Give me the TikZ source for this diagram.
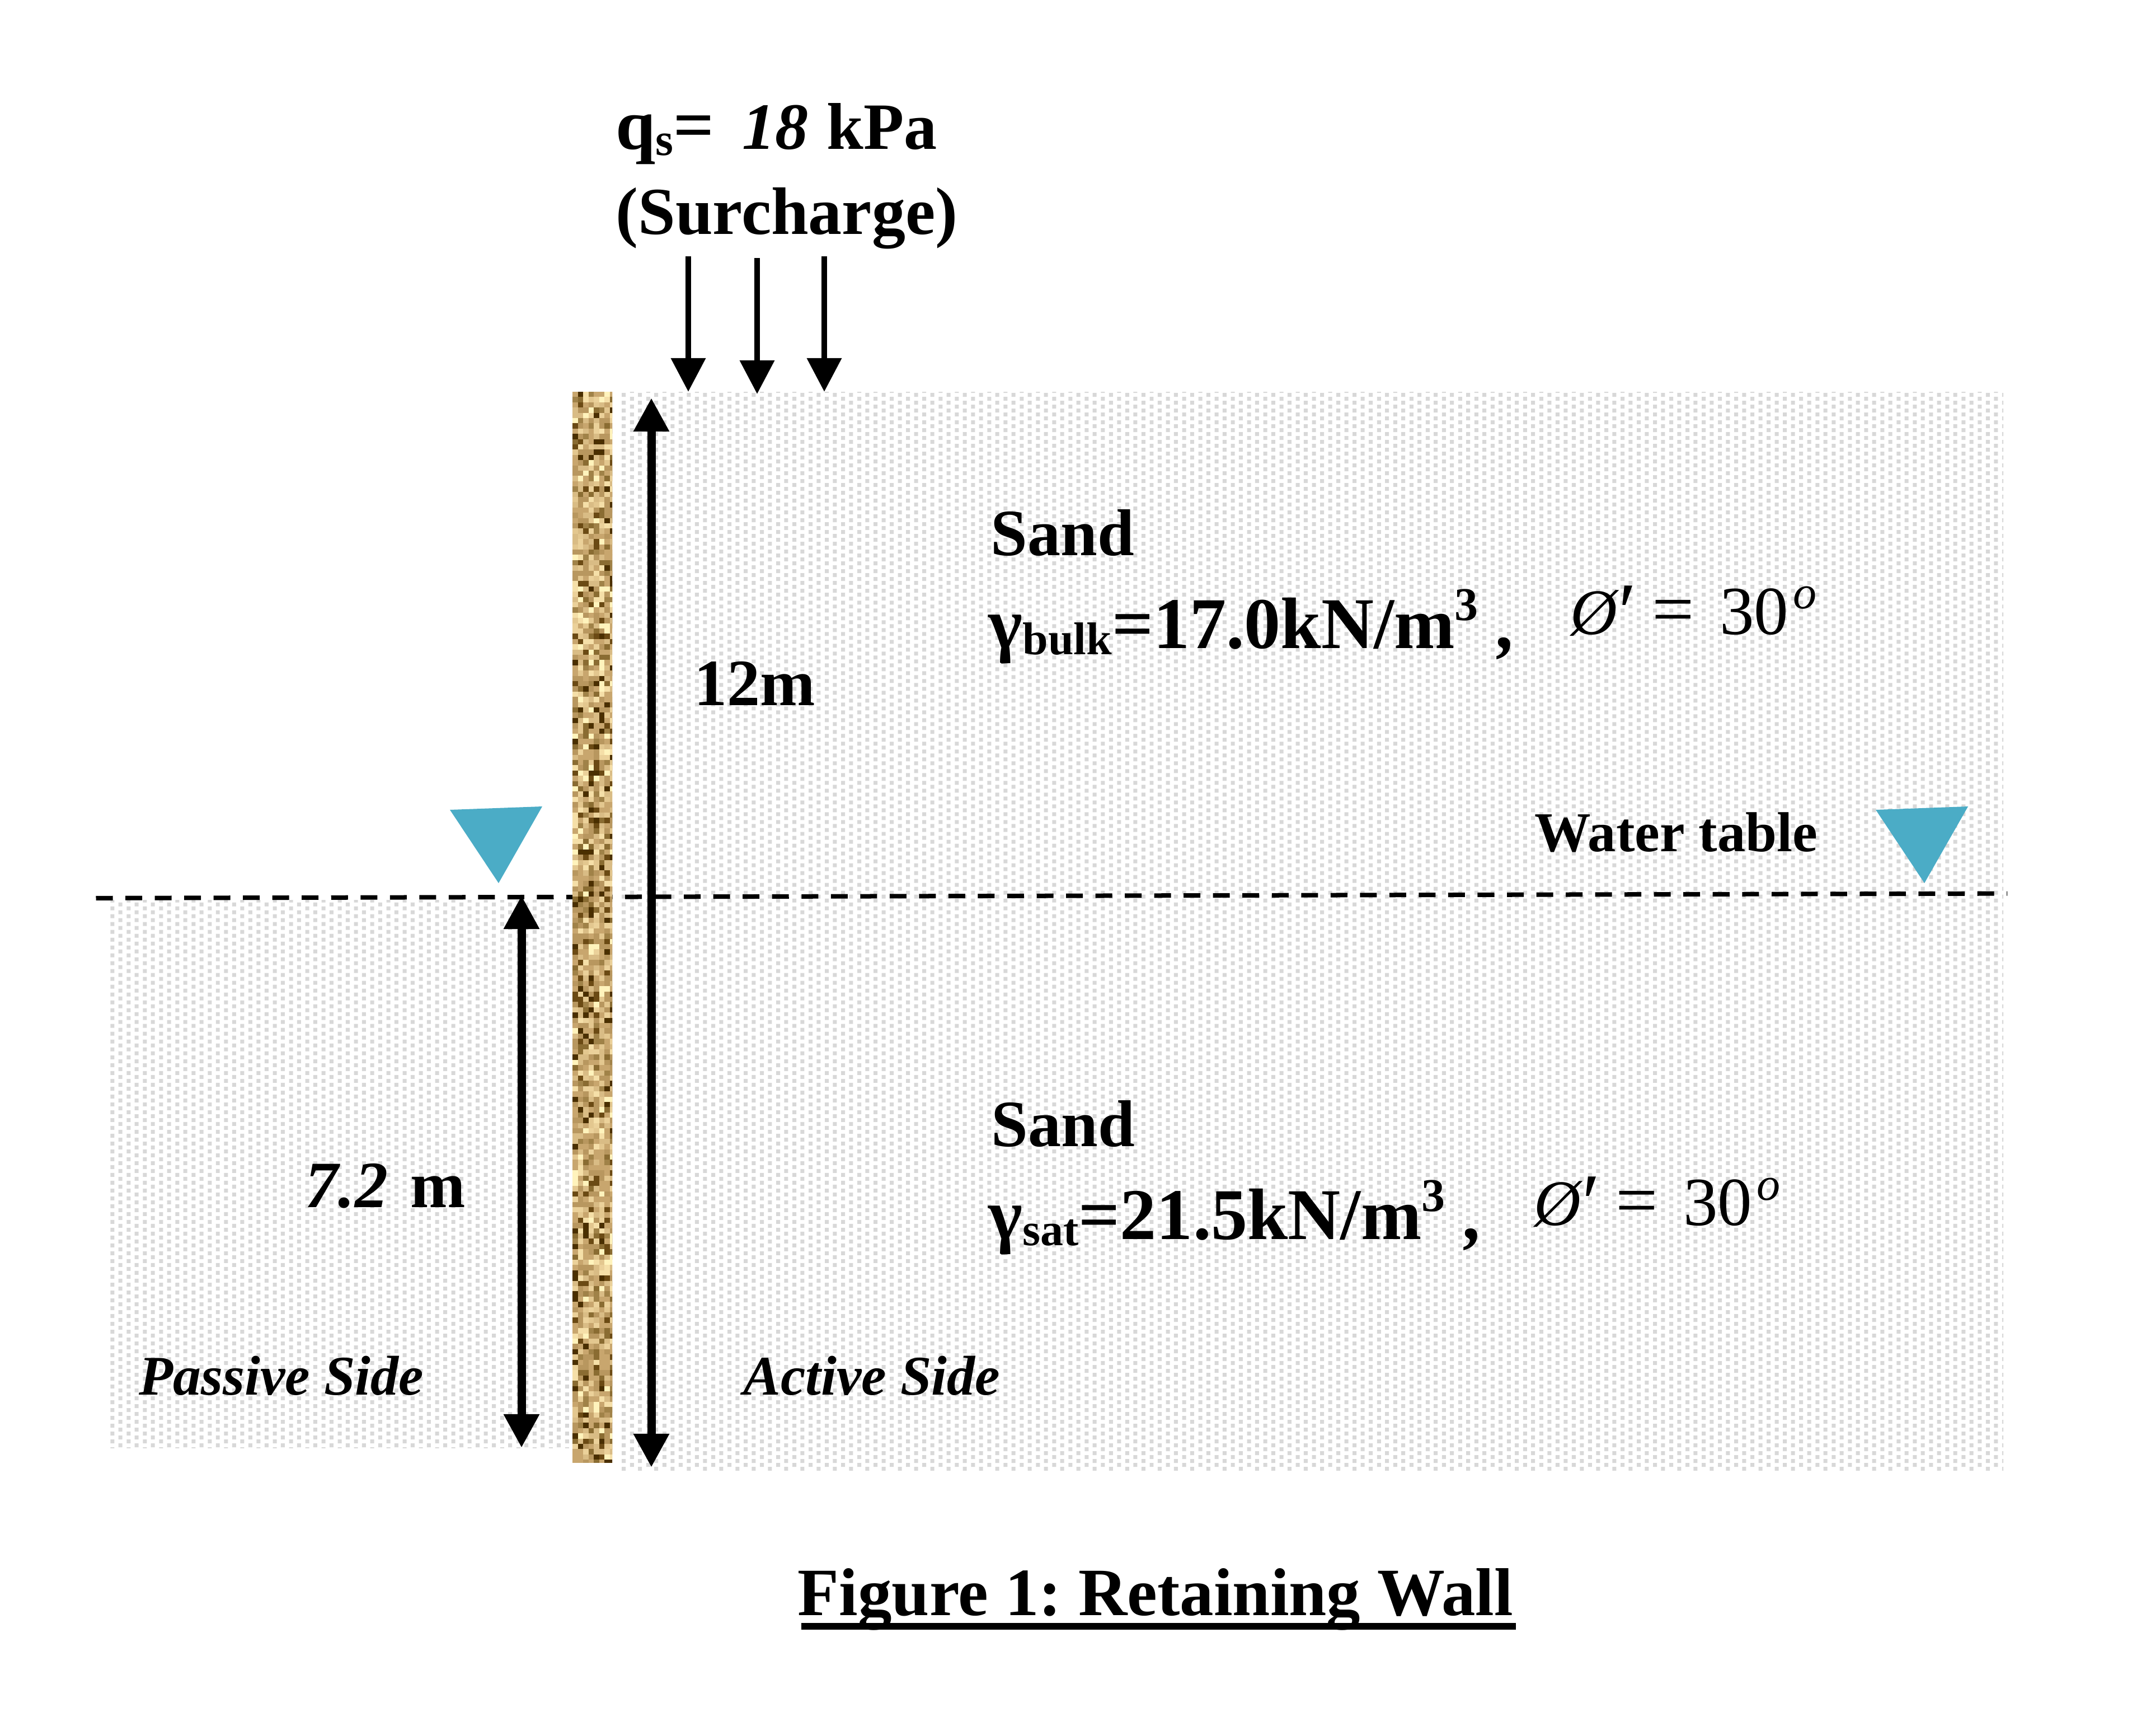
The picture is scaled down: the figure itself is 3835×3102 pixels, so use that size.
\documentclass[tikz,border=0pt]{standalone}
\usepackage{fontspec}
\setmainfont{Liberation Serif}
\usetikzlibrary{arrows.meta}
\usetikzlibrary{patterns}
\tikzset{>={Triangle[length=0.6cm,width=0.6cm]}}
\definecolor{sandgray}{HTML}{D8D8D8}
\definecolor{watercol}{HTML}{4BACC6}
\definecolor{wall0}{HTML}{C8A66E}
\definecolor{wall1}{HTML}{B8975F}
\definecolor{wall2}{HTML}{D9BC85}
\definecolor{wall3}{HTML}{EBD19A}
\definecolor{wall4}{HTML}{A08248}
\definecolor{wall5}{HTML}{8A6C32}
\definecolor{wall6}{HTML}{6B4A14}
\definecolor{wall7}{HTML}{C8A66E}
\definecolor{wall8}{HTML}{B8975F}
\definecolor{wall9}{HTML}{D9BC85}
\definecolor{wall10}{HTML}{E3C78F}
\definecolor{wall11}{HTML}{4A2F00}
\definecolor{wall12}{HTML}{FFF3BC}
\definecolor{wall13}{HTML}{F5DFA8}
\definecolor{wall14}{HTML}{C8A66E}
\definecolor{wall15}{HTML}{B8975F}
% staggered grey squares of the soil
\pgfdeclarepatternformonly{sanddots}{\pgfqpoint{-3pt}{-3pt}}{\pgfqpoint{12pt}{8pt}}{\pgfqpoint{8.2517pt}{3.9835pt}}{
    \pgfpathrectangle{\pgfqpoint{2.42pt}{-0.71pt}}{\pgfqpoint{1.99pt}{1.99pt}}
    \pgfpathrectangle{\pgfqpoint{6.6pt}{1.28pt}}{\pgfqpoint{1.99pt}{1.99pt}}
    \pgfusepath{fill}
}
\tikzstyle{soil} = [pattern=sanddots, pattern color=sandgray]
\tikzstyle{label} = [anchor=base west, inner sep=0pt, font=\bfseries\fontsize{33.6}{40}\selectfont]
\tikzstyle{smalllabel} = [anchor=base west, inner sep=0pt, font=\bfseries\fontsize{28.6}{34}\selectfont]
\tikzstyle{sidelabel} = [smalllabel, font=\bfseries\itshape\fontsize{28.45}{34}\selectfont]
\tikzstyle{unitlabel} = [label, font=\bfseries\fontsize{37}{42}\selectfont]
\tikzstyle{frictlabel} = [anchor=base west, inner sep=0pt, font=\fontsize{33.6}{40}\selectfont]
\tikzstyle{dimline} = [<->, line width=0.15cm]
\tikzstyle{loadline} = [->, line width=0.1cm]
\tikzstyle{waterline} = [line width=0.08cm, dash pattern=on 0.3cm off 0.225cm]
\tikzstyle{watermark} = [fill=watercol]
\newcommand{\sublabel}[1]{\raisebox{-0.11cm}{\fontsize{23.3}{28}\selectfont #1}}
\newcommand{\cubed}{\raisebox{0.49cm}{\fontsize{23.9}{28}\selectfont 3}}
\newcommand{\frictangle}{{\fontsize{33}{36}\selectfont\itshape Ø}\hspace{0.02cm}\raisebox{-0.1cm}{\fontsize{42}{44}\selectfont ′}\hspace{0.28cm}{\fontsize{38}{40}\selectfont =}\hspace{0.45cm}{\fontsize{35}{40}\selectfont 30}\hspace{0.08cm}\raisebox{0.45cm}{\fontsize{23.9}{28}\selectfont\itshape o}}

\begin{document}
\begin{tikzpicture}[x=0.01cm, y=-0.01cm]
    \useasboundingbox (0,0) rectangle (3835,3102);
    % We start by placing the soil on both sides
    \coordinate (leftsoilA) at (196,1608);
    \coordinate (leftsoilB) at (1023,2587);
    \coordinate (rightsoilA) at (1110,700);
    \coordinate (rightsoilB) at (3580,2627);
    \path [soil] (leftsoilA) rectangle (leftsoilB);
    \path [soil] (rightsoilA) rectangle (rightsoilB);

    % The water table runs behind the wall
    \coordinate (waterleft) at (171.5,1604.8);
    \coordinate (waterright) at (3587,1596.6);
    \draw [waterline] (waterleft) -- (waterright);

    % The wall is a grid of small random cells
    \begin{scope}
        \clip (1023,700) rectangle (1094,2613);
        \fill [wall0] (1023,700) rectangle (1094,2613);
        \pgfmathsetseed{1835}
        \foreach \wallrow in {0,...,203} {
            \foreach \wallcol in {0,...,7} {
                \pgfmathrandominteger{\wallpick}{0}{15}
                \pgfmathrandominteger{\wallw}{1}{3}
                \pgfmathrandominteger{\wallh}{1}{2}
                \fill [wall\wallpick] ({1023+\wallcol*9.55},{700+\wallrow*9.4}) rectangle +({9.6*\wallw},{9.45*\wallh});
            }
        }
    \end{scope}

    % Water table marks
    \coordinate (markLa) at (804,1447);
    \coordinate (markLb) at (969,1441);
    \coordinate (markLc) at (891,1578);
    \coordinate (markRa) at (3352,1447);
    \coordinate (markRb) at (3517,1441);
    \coordinate (markRc) at (3439,1578);
    \fill [watermark] (markLa) -- (markLb) -- (markLc) -- cycle;
    \fill [watermark] (markRa) -- (markRb) -- (markRc) -- cycle;

    % Dimension lines and the surcharge arrows
    \coordinate (walltop) at (1164,711);
    \coordinate (wallend) at (1164,2622);
    \coordinate (passivetop) at (932,1600);
    \coordinate (passiveend) at (932,2587);
    \draw [dimline] (walltop) -- (wallend);
    \draw [dimline] (passivetop) -- (passiveend);
    \foreach \n/\x/\t/\b in {1/1230/458/700,2/1353/461/704,3/1473/458/700} {
        \coordinate (load\n) at (\x,\t);
        \coordinate (loadtip\n) at (\x,\b);
        \draw [loadline] (load\n) -- (loadtip\n);
    }

    % Once the shapes are placed, the texts go on top
    \node [label] (surcharge) at (1100,266) {{\fontsize{36.4}{40}\selectfont q}\sublabel{s}{\fontsize{36.4}{40}\selectfont =}\hspace{0.5cm}{\itshape 18}\hspace{0.33cm}kPa};
    \node [label, font=\bfseries\fontsize{34.1}{40}\selectfont] (surchargename) at (1100,418) {(Surcharge)};
    \node [label] (sandA) at (1770,992) {Sand};
    \node [unitlabel] (gammabulk) at (1766,1158) {γ\sublabel{bulk}=17.0kN/m\cubed\hspace{0.36cm}{\itshape ,}};
    \node [frictlabel] (frictA) at (2806,1133) {\frictangle};
    \node [label] (height) at (1240,1260) {12m};
    \node [smalllabel] (watertable) at (2742,1521) {Water table};
    \node [label] (sandB) at (1771,2048) {Sand};
    \node [unitlabel] (gammasat) at (1766,2214) {γ\sublabel{sat}=21.5kN/m\cubed\hspace{0.36cm}{\itshape ,}};
    \node [frictlabel] (frictB) at (2741,2189) {\frictangle};
    \node [label] (depth) at (545,2157) {{\itshape 7.2}\hspace{0.4cm}m};
    \node [sidelabel] (passive) at (248,2492) {Passive Side};
    \node [sidelabel] (active) at (1328,2492) {Active Side};
    \node [label, font=\bfseries\frenchspacing\fontsize{34.4}{40}\selectfont] (caption) at (1431,2886)
        {\vtop{\hbox{\hspace{-0.06cm}Figure 1: Retaining Wall\hspace{0.05cm}}\kern-0.13cm\hrule height 0.12cm}};
\end{tikzpicture}
\end{document}
